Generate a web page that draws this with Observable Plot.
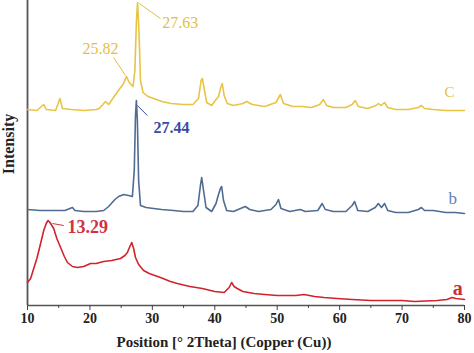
<!DOCTYPE html>
<html>
<head>
<meta charset="utf-8">
<script src="https://cdn.jsdelivr.net/npm/d3@7"></script>
<script src="https://cdn.jsdelivr.net/npm/@observablehq/plot@0.6"></script>
<style>
  html, body { margin: 0; padding: 0; background: #fff; }
  #chart svg { display: block; }
</style>
</head>
<body>
<div id="chart"></div>
<script>
// XRD patterns, 2θ (degrees) and stacked intensity (a.u.)
const thetaC = [10,11.5,12.6,13.0,14.5,15.2,15.6,17,19,21,21.5,22.5,23,24,24.8,25.3,25.85,26.3,26.9,27.2,27.45,27.63,27.85,28.1,28.5,29.3,30.2,31.5,33,35,36.5,37.4,37.8,38.0,38.3,38.7,39.5,40.2,40.6,41.0,41.2,41.5,42,43,44.5,45.1,46,48,49.8,50.5,51,52.5,54,55.5,56.8,57.4,57.9,59,61,62.0,62.5,63,64.5,65.8,66.2,66.6,67.2,67.7,69,71,72.6,73.1,73.6,75,77,78.5,80];
const yC = [109,110,104,109,110,98,108,109,110,109,108,101,104,95,88,84,76,82,86,70,20,2,30,80,92,96,98,101,103,104,104,98,80,78,88,102,105,99,96,86,83,95,103,105,103,101,104,106,102,94,103,106,106,107,104,99,105,107,107,104,100,106,108,105,103,105,102,107,109,109,107,105,108,109,110,110,110];

const thetaB = [10,12,14,16,17.2,17.6,19,21,22.2,23,24,24.6,25.4,26.2,26.8,27.1,27.3,27.44,27.6,27.8,28.1,29,30.2,31.5,33.4,35,36.5,37.3,37.7,37.9,38.2,38.6,39.5,40.2,40.5,40.9,41.1,41.4,41.9,43,44.5,44.9,45.6,47,49,49.8,50.2,50.6,52,53.7,54.5,56.5,57.2,57.7,59,61,62.0,62.4,62.9,64.5,65.7,66.2,66.7,67.2,67.7,69,71,72.6,73.1,73.6,75,77,78.5,80];
const yB = [209,210,210,210,207,210,211,211,210,206,199,196,194,195,196,170,115,100,120,180,205,207,208,209,210,211,211,205,185,177,190,207,211,203,196,188,186,200,210,211,207,206,209,211,209,204,199,208,211,209,211,210,203,209,211,211,205,201,210,211,207,203,207,203,210,212,212,209,207,210,210,212,212,213];

const thetaA = [10,10.5,11,11.5,12.1,12.6,13.0,13.29,13.6,14.2,14.7,15.3,15.9,16.4,17.2,18,19,20.1,21,22.2,23.5,24.9,25.6,26.0,26.4,26.7,27.0,27.3,27.8,28.6,29.5,31.3,32.9,34,36,38,40,41.5,42.3,42.7,43.1,43.6,44.5,46.3,48,50,51.6,53,54.3,56,57.5,59.6,62,65,67.6,70,72,75.6,77.2,78,78.6,80];
const yA = [282,278,268,258,243,230,223,220,222,228,238,247,256,262,266,267,266,263,263,261,260,258,255,252,246,242,248,257,264,270,273,277,281,283,286,288,291,292,287,282,286,288,291,293,294,295,295,295,294,296,297,298,299,300,300,300,301,300,299,297,298,299];

// image rows -> intensity (a.u.), axis baseline at 305
const toI = v => 305 - v;
const seriesC = thetaC.map((t, i) => ({t, v: toI(yC[i])}));
const seriesB = thetaB.map((t, i) => ({t, v: toI(yB[i])}));
const seriesA = thetaA.map((t, i) => ({t, v: toI(yA[i])}));

const majorTicks = [10,20,30,40,50,60,70,80];
const minorTicks = [15,25,35,45,55,65,75];

// peak annotations: label text, label anchor (2θ, intensity), leader line start/end
const peakText = ["13.29","27.44","27.63","25.82"];
const peakLabelT = [16.4, 30.2, 31.6, 18.8];
const peakLabelV = [78, 178, 282.5, 257];
const leadT1 = [14.0, 27.6, 27.9, 23.8];
const leadV1 = [82, 200, 302, 248];
const leadT2 = [15.8, 29.2, 31.3, 25.7];
const leadV2 = [80, 190, 287, 230];
const peakColor = ["#d1323e","#3b4aa0","#e3bf3f","#e3bf3f"];
const peakSize = [18,16,16,16];
const peakWeight = ["bold","bold","normal","normal"];

const seriesText = ["C","b","a"];
const seriesLabelT = [77.6, 78.1, 78.9];
const seriesLabelV = [213, 107, 17];
const seriesTextColor = ["#e3bf3f","#5f7fbb","#c8303a"];
const seriesTextSize = [15,17,20];
const seriesTextWeight = ["normal","normal","bold"];

const peaks = peakText.map((s, i) => ({s, t: peakLabelT[i], v: peakLabelV[i], t1: leadT1[i], v1: leadV1[i], t2: leadT2[i], v2: leadV2[i], c: peakColor[i], fs: peakSize[i], fw: peakWeight[i]}));
const slabels = seriesText.map((s, i) => ({s, t: seriesLabelT[i], v: seriesLabelV[i], c: seriesTextColor[i], fs: seriesTextSize[i], fw: seriesTextWeight[i]}));

const serif = "'Liberation Serif', 'Times New Roman', serif";

const chart = Plot.plot({
  width: 474,
  height: 353,
  marginLeft: 27,
  marginRight: 10,
  marginTop: 0,
  marginBottom: 48,
  style: {fontFamily: serif, background: "#fff", color: "#222"},
  x: {domain: [10, 80]},
  y: {domain: [0, 305], axis: null},
  marks: [
    Plot.ruleX([10], {stroke: "#555", strokeWidth: 1.8}),
    Plot.ruleY([0], {stroke: "#555", strokeWidth: 1.5}),
    Plot.axisX({ticks: majorTicks, tickSize: 5, tickPadding: 3, tickFormat: d => String(d), label: null, fontSize: 14, fontWeight: "bold", stroke: "#444", fill: "#222"}),
    Plot.axisX({ticks: minorTicks, tickSize: 3, tickFormat: () => "", label: null, stroke: "#444"}),
    Plot.line(seriesA, {x: "t", y: "v", stroke: "#d2222c", strokeWidth: 1.6}),
    Plot.line(seriesB, {x: "t", y: "v", stroke: "#4f6b92", strokeWidth: 1.6}),
    Plot.line(seriesC, {x: "t", y: "v", stroke: "#e8c445", strokeWidth: 1.6}),
    Plot.link(peaks, {x1: "t1", y1: "v1", x2: "t2", y2: "v2", stroke: d => d.c, strokeWidth: 1}),
    ...peaks.map(p => Plot.text([p], {x: "t", y: "v", text: "s", fill: p.c, fontSize: p.fs, fontWeight: p.fw, textAnchor: "start", lineAnchor: "middle"})),
    ...slabels.map(p => Plot.text([p], {x: "t", y: "v", text: "s", fill: p.c, fontSize: p.fs, fontWeight: p.fw, textAnchor: "middle", lineAnchor: "middle"})),
    Plot.text(["Position [° 2Theta] (Copper (Cu))"], {frameAnchor: "bottom", dy: 37, dx: -22, fontSize: 15, fontWeight: "bold", fill: "#222", textAnchor: "middle", lineAnchor: "middle"}),
    Plot.text(["Intensity"], {frameAnchor: "left", dx: -19, dy: -9, rotate: -90, fontSize: 16, fontWeight: "bold", fill: "#222", textAnchor: "middle", lineAnchor: "middle"})
  ]
});
document.getElementById("chart").appendChild(chart);
</script>
</body>
</html>
